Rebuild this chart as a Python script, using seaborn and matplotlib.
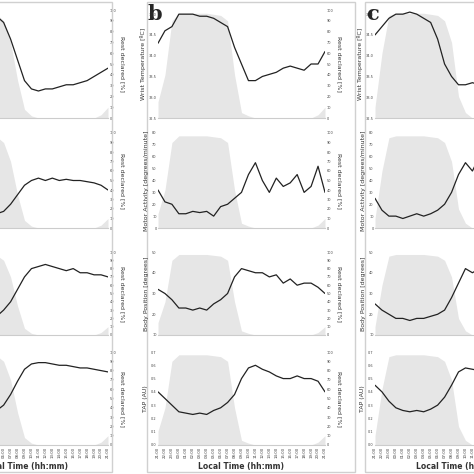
import numpy as np
import pandas as pd
import seaborn as sns
import matplotlib.pyplot as plt
from matplotlib.patches import Rectangle

sns.set_style("white")
plt.rcParams['font.family'] = ['DejaVu Sans']

hours = list(range(25))
time_labels = [f"{(21 + h) % 24:02d}:00" for h in hours]

rest_b = [15, 40, 90, 97, 97, 97, 97, 97, 96, 95, 90, 40, 5, 2, 0, 0, 0, 0, 0, 0, 0, 0, 0, 3, 10]
rest_a = [15, 50, 92, 97, 97, 97, 97, 97, 96, 90, 70, 35, 8, 2, 0, 0, 0, 0, 0, 0, 0, 0, 0, 3, 10]
rest_c = [10, 60, 95, 97, 97, 97, 97, 97, 96, 95, 90, 70, 20, 5, 0, 0, 0, 0, 0, 0, 0, 0, 0, 0, 0]

temp_a = [34.5, 34.8, 35.0, 35.0, 35.0, 35.0, 35.0, 35.0, 34.95, 34.8, 34.4, 33.9, 33.4, 33.2, 33.15, 33.2, 33.2, 33.25, 33.3, 33.3, 33.35, 33.4, 33.5, 33.6, 33.7]
temp_b = [34.3, 34.6, 34.7, 35.0, 35.0, 35.0, 34.95, 34.95, 34.9, 34.8, 34.7, 34.2, 33.8, 33.4, 33.4, 33.5, 33.55, 33.6, 33.7, 33.75, 33.7, 33.65, 33.8, 33.8, 34.1]
temp_c = [34.5, 34.7, 34.9, 35.0, 35.0, 35.05, 35.0, 34.9, 34.8, 34.4, 33.8, 33.5, 33.3, 33.3, 33.35, 33.3, 33.35, 33.4, 33.4, 33.4, 33.45, 33.4, 33.5, 33.5, 33.5]

motor_a = [25, 15, 12, 10, 10, 10, 10, 10, 12, 14, 20, 28, 36, 40, 42, 40, 42, 40, 41, 40, 40, 39, 38, 36, 32]
motor_b = [32, 22, 20, 12, 12, 14, 13, 14, 10, 18, 20, 25, 30, 45, 55, 40, 30, 42, 35, 38, 45, 30, 35, 52, 30]
motor_c = [25, 15, 10, 10, 8, 10, 12, 10, 12, 15, 20, 30, 45, 55, 48, 60, 40, 55, 45, 60, 50, 45, 55, 50, 45]

pos_a = [25, 22, 20, 18, 18, 18, 18, 18, 19, 22, 26, 32, 38, 42, 43, 44, 43, 42, 41, 42, 40, 40, 39, 39, 38]
pos_b = [32, 30, 27, 23, 23, 22, 23, 22, 25, 27, 30, 38, 42, 41, 40, 40, 38, 39, 35, 37, 34, 35, 35, 33, 30]
pos_c = [25, 22, 20, 18, 18, 17, 18, 18, 19, 20, 22, 28, 35, 42, 40, 42, 41, 42, 40, 41, 40, 39, 40, 40, 39]

tap_a = [0.40, 0.33, 0.28, 0.25, 0.24, 0.24, 0.24, 0.24, 0.26, 0.30, 0.38, 0.48, 0.57, 0.61, 0.62, 0.62, 0.61, 0.60, 0.60, 0.59, 0.58, 0.58, 0.57, 0.56, 0.55]
tap_b = [0.40, 0.35, 0.30, 0.25, 0.24, 0.23, 0.24, 0.23, 0.26, 0.28, 0.32, 0.38, 0.50, 0.58, 0.60, 0.57, 0.55, 0.52, 0.50, 0.50, 0.52, 0.50, 0.50, 0.48, 0.40]
tap_c = [0.45, 0.40, 0.33, 0.28, 0.26, 0.25, 0.26, 0.25, 0.27, 0.30, 0.36, 0.45, 0.55, 0.58, 0.57, 0.56, 0.55, 0.55, 0.54, 0.55, 0.54, 0.53, 0.53, 0.52, 0.52]

rows = [
    ("Wrist Temperature [ºC]", (32.5, 35.1), [32.5, 33.0, 33.5, 34.0, 34.5, 35.0], {"a": temp_a, "b": temp_b, "c": temp_c}),
    ("Motor Activity [degrees/minute]", (0, 80), list(range(0, 81, 10)), {"a": motor_a, "b": motor_b, "c": motor_c}),
    ("Body Position [degrees]", (10, 50), [10, 20, 30, 40, 50], {"a": pos_a, "b": pos_b, "c": pos_c}),
    ("TAP (AU)", (0, 0.7), [0, 0.1, 0.2, 0.3, 0.4, 0.5, 0.6, 0.7], {"a": tap_a, "b": tap_b, "c": tap_c}),
]
rests = {"a": rest_a, "b": rest_b, "c": rest_c}

W = H = 474
fig = plt.figure(figsize=(4.74, 4.74), dpi=100)
for x0, x1 in [(-10, 112), (147, 355), (365, 480)]:
    fig.add_artist(Rectangle((x0 / W, 2 / H), (x1 - x0) / W, 470 / H, transform=fig.transFigure,
                             fill=False, edgecolor="#d0d0d0", lw=1))
col_x = {"a": (-59, 108), "b": (158, 325), "c": (375, 542)}
row_y = [(10, 118), (133, 228), (252, 335), (352, 445)]
grey = "#e6e6e6"
for ci, col in enumerate(["a", "b", "c"]):
    x0, x1 = col_x[col]
    for ri, (lab, ylim, yt, data) in enumerate(rows):
        y0, y1 = row_y[ri]
        ax = fig.add_axes([x0 / W, 1 - y1 / H, (x1 - x0) / W, (y1 - y0) / H])
        ax2 = ax.twinx()
        ax2.fill_between(hours, rests[col], color=grey, lw=0)
        ax2.set_ylim(0, 100)
        ax2.set_yticks(range(0, 101, 10))
        ax2.tick_params(labelsize=2.5, length=0, pad=1, colors="#444")
        ax2.set_ylabel("Rest declared [%]", fontsize=4.5, rotation=270, labelpad=6, color="#333")
        df = pd.DataFrame({"h": hours, "v": data[col]})
        ax.set_zorder(ax2.get_zorder() + 1)
        ax.patch.set_visible(False)
        sns.lineplot(data=df, x="h", y="v", ax=ax, color="#222", lw=0.9, errorbar=None)
        ax.set_ylim(*ylim)
        ax.set_yticks(yt)
        ax.set_xlim(0, 24)
        ax.tick_params(labelsize=2.5, length=0, pad=1, colors="#444")
        ax.set_ylabel(lab, fontsize=4.5, labelpad=2, color="#333")
        ax.set_xlabel("")
        for a in (ax, ax2):
            for s in a.spines.values():
                s.set_visible(False)
        ax.spines["bottom"].set_visible(True)
        ax.spines["bottom"].set_color("#ccc")
        ax.set_xticks(hours)
        if ri == 3:
            ax.set_xticklabels(time_labels, rotation=90, fontsize=2.8)
            ax.set_xlabel("Local Time (hh:mm)", fontsize=5.5, fontweight="bold", color="#333", labelpad=3)
        else:
            ax.set_xticklabels([])
fig.text(147 / W, 1 - 20 / H, "b", fontsize=15, fontweight="bold", family="DejaVu Serif")
fig.text(366 / W, 1 - 20 / H, "c", fontsize=15, fontweight="bold", family="DejaVu Serif")
fig.savefig("out.png", dpi=100)
